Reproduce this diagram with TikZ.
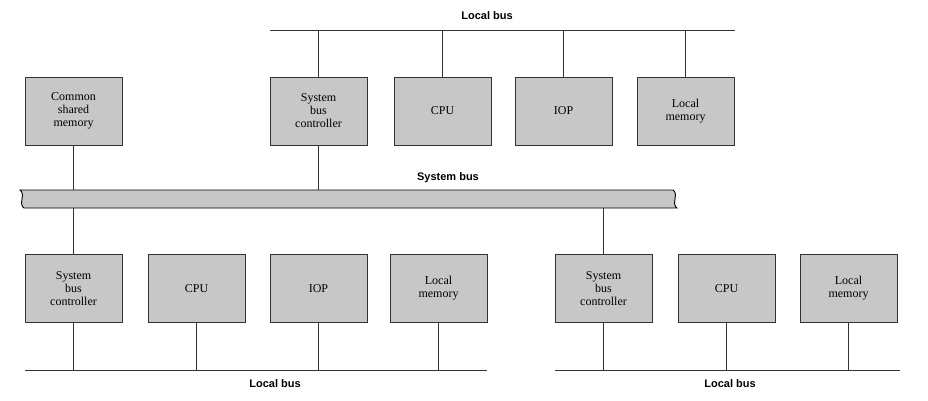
\documentclass[tikz,border=0pt]{standalone}
\usepackage{fontspec}
\setmainfont{Liberation Serif}
\newfontfamily\labfont{Liberation Sans}
\begin{document}
\begin{tikzpicture}[x=1pt,y=-1pt,
  unit/.style={draw=black!80,line width=0.9pt,fill=black!22,minimum width=97pt,minimum height=68pt,align=center,font=\fontsize{12}{13}\selectfont,inner sep=1pt},
  busline/.style={line width=1pt,black!80},
  lab/.style={font=\labfont\bfseries\fontsize{11}{12}\selectfont}]
\useasboundingbox[fill=white] (0,0) rectangle (928,400);
% top
\node[unit] (csm) at (73.5,111) {Common\\shared\\memory};
\node[unit] (sbc1) at (318.5,111) {System\\bus\\controller};
\node[unit] (cpu1) at (442.5,111) {CPU};
\node[unit] (iop1) at (563.5,111) {IOP};
\node[unit] (lm1) at (685.5,111) {Local\\memory};
\coordinate (tb1) at (270,30); \coordinate (tb2) at (735,30);
\draw[busline] (tb1) -- (tb2);
\node[lab] (tbl) at (487,16) {Local bus};
\foreach \n in {sbc1,cpu1,iop1,lm1} \draw[busline] (\n.north) -- (\n.north |- tb1);
% system bus
\draw[line width=0.9pt,fill=black!22] (20,190) -- (673,190) .. controls (679,194) and (671,204) .. (677,208) -- (24,208) .. controls (18,204) and (26,194) .. (20,190) -- cycle;
\coordinate (sbt) at (0,190); \coordinate (sbb) at (0,208);
\node[lab] (sbl) at (448,178) {System bus};
\draw[busline] (csm.south) -- (csm.south |- sbt);
\draw[busline] (sbc1.south) -- (sbc1.south |- sbt);
% bottom left
\node[unit] (sbc2) at (73.5,288.5) {System\\bus\\controller};
\node[unit] (cpu2) at (196.5,288.5) {CPU};
\node[unit] (iop2) at (318.5,288.5) {IOP};
\node[unit] (lm2) at (438.5,288.5) {Local\\memory};
\coordinate (lb1) at (25,370); \coordinate (lb2) at (487,370);
\draw[busline] (lb1) -- (lb2);
\node[lab] (lbl) at (275,384) {Local bus};
\foreach \n in {sbc2,cpu2,iop2,lm2} \draw[busline] (\n.south) -- (\n.south |- lb1);
\draw[busline] (sbc2.north) -- (sbc2.north |- sbb);
% bottom right
\node[unit] (sbc3) at (603.5,288.5) {System\\bus\\controller};
\node[unit] (cpu3) at (726.5,288.5) {CPU};
\node[unit] (lm3) at (848.5,288.5) {Local\\memory};
\coordinate (rb1) at (555,370); \coordinate (rb2) at (900,370);
\draw[busline] (rb1) -- (rb2);
\node[lab] (rbl) at (730,384) {Local bus};
\foreach \n in {sbc3,cpu3,lm3} \draw[busline] (\n.south) -- (\n.south |- rb1);
\draw[busline] (sbc3.north) -- (sbc3.north |- sbb);
\end{tikzpicture}
\end{document}
